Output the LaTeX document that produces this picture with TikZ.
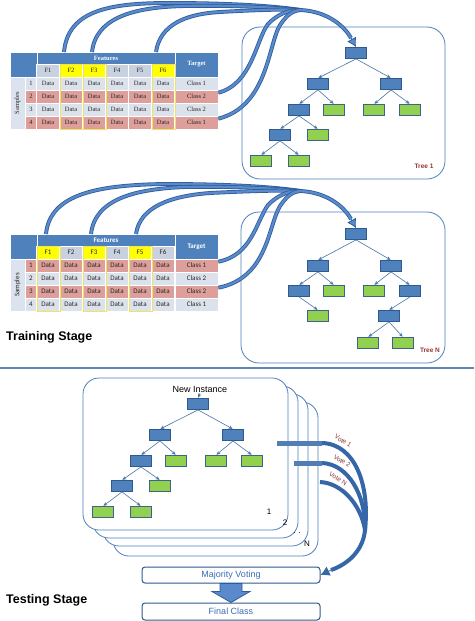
\documentclass[tikz,border=0pt]{standalone}
\usepackage{fontspec}
\setmainfont{Liberation Sans}
\newfontfamily\tabserif{Liberation Serif}
\newfontfamily\tabsans{Carlito}
\usetikzlibrary{arrows.meta}

\definecolor{hdrblue}{HTML}{4F81BD}
\definecolor{rowgrey}{HTML}{DCE2EC}
\definecolor{rowpink}{HTML}{DE9F9B}
\definecolor{fgrey}{HTML}{C8D1E0}
\definecolor{fyel}{HTML}{FFFF00}
\definecolor{samp}{HTML}{DCE3EE}
\definecolor{nblue}{HTML}{4F81BD}
\definecolor{nbdark}{HTML}{2F5A8E}
\definecolor{ngreen}{HTML}{92D050}
\definecolor{boxline}{HTML}{4F81BD}
\definecolor{tubeout}{HTML}{2E5C9A}
\definecolor{tubein}{HTML}{5A8ACB}
\definecolor{vcol}{HTML}{3566A8}
\definecolor{treered}{HTML}{953735}
\definecolor{divcol}{HTML}{5F87B3}
\definecolor{votered}{HTML}{8B3A3A}
\definecolor{yelline}{HTML}{F2E35C}
\definecolor{vtext}{HTML}{3A6DB0}

\tikzset{
  hdr/.style={rectangle, fill=hdrblue, draw=white, line width=0.6pt, inner sep=0pt, text=white},
  cell/.style={rectangle, draw=white, line width=0.6pt, inner sep=0pt, minimum width=23pt, minimum height=13pt, text=black!85},
  bn/.style={rectangle, fill=nblue, draw=nbdark, line width=0.8pt, minimum width=21pt, minimum height=11pt, inner sep=0pt},
  gn/.style={rectangle, fill=ngreen, draw=nbdark!80!gray, line width=0.8pt, minimum width=21pt, minimum height=11pt, inner sep=0pt},
  edge/.style={draw=nblue!90!black, line width=0.6pt, -{Stealth[length=4pt,width=3.5pt]}, shorten >=0.5pt},
  tbox/.style={draw=boxline, line width=0.8pt, rounded corners=18pt},
  card/.style={draw=boxline, line width=0.8pt, rounded corners=16pt, fill=white},
  tube/.style={draw=tubeout, line width=0.8pt, double=tubein, double distance=2.3pt},
  vtube/.style={draw=vcol, line width=4pt},
  tubetip/.style={draw=tubeout, line width=0.8pt, -{Latex[length=9pt,width=10pt,fill=tubein]}},
  votebar/.style={draw=vcol!85!white, line width=5pt},
  treelbl/.style={text=treered, font=\bfseries\fontsize{6.5}{7}\selectfont, inner sep=0pt},
  votelbl/.style={text=votered, font=\fontsize{6.5}{7}\selectfont, inner sep=0pt},
  stage/.style={font=\bfseries\fontsize{12.5}{14}\selectfont, anchor=west, inner sep=0pt},
  cardlbl/.style={font=\fontsize{8}{9}\selectfont, inner sep=0pt},
  vbox/.style={rectangle, rounded corners=3pt, draw=nbdark, line width=1pt, fill=white, text=vtext, font=\fontsize{9}{10}\selectfont, minimum width=178pt, inner sep=0pt},
}

\newcommand\mkTable[6]{%
\begin{scope}[shift={(0,#2)}, font=#5]
 \node[hdr, minimum width=27pt, minimum height=25pt] (#1corner) at (23.5,64.5) {};
 \node[hdr, minimum width=138pt, minimum height=12pt] (#1feat) at (106,58) {\bfseries Features};
 \node[hdr, minimum width=43pt, minimum height=25pt] (#1targ) at (196.5,64.5) {\bfseries Target};
 \foreach \c/\fc in {#3} {\node[cell, fill=\fc] (#1f\c) at ({25+23*\c},70.5) {F\c};}
 \node[cell, fill=samp, minimum width=52pt, minimum height=15pt, rotate=90] (#1samp) at (17.5,103) {Samples};
 \foreach \r/\rc/\cl in {#4} {
   \node[cell, fill=\rc, minimum width=12pt] (#1n\r) at (31,{70.5+13*\r}) {\r};
   \foreach \c in {1,...,6} {\node[cell, fill=\rc] (#1d\r\c) at ({25+23*\c},{70.5+13*\r}) {Data};}
   \node[cell, fill=\rc, minimum width=43pt] (#1c\r) at (196.5,{70.5+13*\r}) {\cl};
 }
 \foreach \c in {#6} {\draw[yelline, line width=0.9pt] ({14+23*\c},64.5) rectangle ({37+23*\c},129);}
\end{scope}}

\newcommand\treeOne[1]{%
 \node[bn] (#1a) at (0,0) {};
 \node[bn] (#1b) at (-38,31) {};
 \node[bn] (#1c) at (35,31) {};
 \node[bn] (#1d) at (-57,57) {};
 \node[gn] (#1e) at (-22,57) {};
 \node[gn] (#1f) at (18,57) {};
 \node[gn] (#1g) at (54,57) {};
 \node[bn] (#1h) at (-76,82) {};
 \node[gn] (#1i) at (-38,82) {};
 \node[gn] (#1j) at (-95,108) {};
 \node[gn] (#1k) at (-57,108) {};
 \draw[edge] (#1a.south) -- (#1b.north);
 \draw[edge] (#1a.south) -- (#1c.north);
 \draw[edge] (#1b.south) -- (#1d.north);
 \draw[edge] (#1b.south) -- (#1e.north);
 \draw[edge] (#1c.south) -- (#1f.north);
 \draw[edge] (#1c.south) -- (#1g.north);
 \draw[edge] (#1d.south) -- (#1h.north);
 \draw[edge] (#1d.south) -- (#1i.north);
 \draw[edge] (#1h.south) -- (#1j.north);
 \draw[edge] (#1h.south) -- (#1k.north);
}

\begin{document}
\begin{tikzpicture}[x=1pt,y=-1pt]
\useasboundingbox (0,0) rectangle (474,621);
\fill[white] (0,0) rectangle (474,621);

% ---------- tables ----------
\mkTable{ta}{0}{1/fgrey,2/fyel,3/fyel,4/fgrey,5/fgrey,6/fyel}{1/rowgrey/Class 1,2/rowpink/Class 2,3/rowgrey/Class 2,4/rowpink/Class 1}{\tabserif\fontsize{6.5}{7}\selectfont}{2,3,6}
\mkTable{tb}{182}{1/fyel,2/fgrey,3/fyel,4/fgrey,5/fyel,6/fgrey}{1/rowpink/Class 1,2/rowgrey/Class 2,3/rowpink/Class 2,4/rowgrey/Class 1}{\tabsans\fontsize{7}{8}\selectfont}{1,3,5}

% ---------- tree 1 ----------
\draw[tbox] (242,27) rectangle (445,179);
\begin{scope}[shift={(356,53)}]
 \treeOne{ra}
\end{scope}
\node[treelbl] (lbl1) at (424,166) {Tree 1};

% ---------- tree N ----------
\draw[tbox] (241,212) rectangle (445,363);
\begin{scope}[shift={(356,234)}]
 \node[bn] (rba) at (0,0) {};
 \node[bn] (rbb) at (-38,32) {};
 \node[bn] (rbc) at (35,32) {};
 \node[bn] (rbd) at (-57,57) {};
 \node[gn] (rbe) at (-22,57) {};
 \node[gn] (rbf) at (18,57) {};
 \node[bn] (rbg) at (54,57) {};
 \node[gn] (rbh) at (-38,82) {};
 \node[bn] (rbi) at (33,82) {};
 \node[gn] (rbj) at (12,109) {};
 \node[gn] (rbk) at (47,109) {};
 \draw[edge] (rba.south) -- (rbb.north);
 \draw[edge] (rba.south) -- (rbc.north);
 \draw[edge] (rbb.south) -- (rbd.north);
 \draw[edge] (rbb.south) -- (rbe.north);
 \draw[edge] (rbc.south) -- (rbf.north);
 \draw[edge] (rbc.south) -- (rbg.north);
 \draw[edge] (rbd.south) -- (rbh.north);
 \draw[edge] (rbg.south) -- (rbi.north);
 \draw[edge] (rbi.south) -- (rbj.north);
 \draw[edge] (rbi.south) -- (rbk.north);
\end{scope}
\node[treelbl] (lbl2) at (430,350) {Tree N};

% ---------- bundles to tree 1 ----------
\coordinate (sa2) at (64,52);
\coordinate (sa3) at (92,52);
\coordinate (sa6) at (156,52);
\coordinate (ja) at (300,10);
\coordinate (ma) at (351,38);
\draw[tube] (sa2) .. controls (68,10) and (110,3) .. (170,3) .. controls (230,3) and (275,6) .. (ja);
\draw[tube] (sa3) .. controls (96,17) and (135,7) .. (185,6) .. controls (240,5) and (280,8) .. (ja);
\draw[tube] (sa6) .. controls (160,25) and (185,14) .. (220,12) .. controls (255,10) and (285,9) .. (ja);
\draw[tube] (tac2.north east) ++(0,3) .. controls (252,84) and (256,40) .. (268,24) .. controls (278,14) and (288,10) .. (ja);
\draw[tube] (tac4.north east) ++(0,3) .. controls (268,106) and (268,45) .. (280,25) .. controls (287,15) and (292,11) .. (ja);
\draw[tube] (ja) .. controls (325,11) and (343,24) .. (ma);
\draw[tubetip] (ma) -- (raa.north);

% ---------- bundles to tree N ----------
\coordinate (sb1) at (46,234);
\coordinate (sb3) at (91,234);
\coordinate (sb5) at (136,234);
\coordinate (jb) at (300,191);
\coordinate (mb) at (351,219);
\draw[tube] (sb1) .. controls (50,193) and (100,185) .. (165,184) .. controls (230,184) and (275,187) .. (jb);
\draw[tube] (sb3) .. controls (95,199) and (135,189) .. (185,187) .. controls (240,186) and (280,189) .. (jb);
\draw[tube] (sb5) .. controls (140,207) and (170,196) .. (210,193) .. controls (250,191) and (285,190) .. (jb);
\draw[tube] (tbc1.north east) ++(0,3) .. controls (252,255) and (256,222) .. (268,205) .. controls (278,195) and (288,191) .. (jb);
\draw[tube] (tbc3.north east) ++(0,3) .. controls (268,278) and (268,226) .. (280,206) .. controls (287,196) and (292,192) .. (jb);
\draw[tube] (jb) .. controls (325,192) and (343,205) .. (mb);
\draw[tubetip] (mb) -- (rba.north);

\node[stage] (train) at (6,337) {Training Stage};

% ---------- divider ----------
\draw[divcol, line width=2pt] (0,368) -- (474,368);

% ---------- testing stage ----------
\draw[card] (113,402) rectangle (318,556);
\draw[card] (103,394) rectangle (308,546);
\draw[card] (93,386) rectangle (298,538);
\draw[card] (83,378) rectangle (288,530);
\node[cardlbl] (k1) at (269,512) {1};
\node[cardlbl] (k2) at (285,523) {2};
\node[cardlbl] (k3) at (297,533) {. .};
\node[cardlbl] (kn) at (307,544) {N};

\node[font=\fontsize{9}{10}\selectfont, inner sep=1pt] (ni) at (200,389) {New Instance};
\begin{scope}[shift={(198,404)}]
 \treeOne{sa}
\end{scope}
\draw[edge] (ni.south) -- (saa.north);

% votes
\coordinate (vb1) at (277,443);
\coordinate (ve1) at (322,443);
\coordinate (vb2) at (294,463);
\coordinate (ve2) at (322,463);
\coordinate (veN) at (320,482);
\coordinate (vj) at (365,530);
\coordinate (vm) at (331,570);
\draw[votebar] (vb1) -- (ve1);
\draw[votebar] (vb2) -- (ve2);
\draw[vtube] (ve1) .. controls (355,444) and (370,485) .. (vj);
\draw[vtube] (ve2) .. controls (348,464) and (366,495) .. (vj);
\draw[vtube] (veN) .. controls (342,483) and (361,505) .. (vj);
\draw[vtube] (vj) .. controls (363,552) and (346,565) .. (vm);

\node[votelbl, rotate=-32] (v1) at (343,441) {Vote 1};
\node[votelbl, rotate=-32] (v2) at (342,461) {Vote 2};
\node[votelbl, rotate=-32] (vn) at (338,479) {Vote N};

\node[vbox, minimum height=16pt] (mv) at (231,575) {Majority Voting};
\node[vbox, minimum height=17pt] (fc) at (231,611.5) {Final Class};
\draw[draw=vcol, line width=0.8pt, -{Latex[length=9pt,width=10pt,fill=vcol]}] (vm) -- (mv.east);
\path[fill=tubein, draw=tubeout, line width=0.8pt]
  ([xshift=-11pt]mv.south) -- ([xshift=11pt]mv.south) -- ([xshift=11pt,yshift=-8pt]mv.south)
  -- ([xshift=19pt,yshift=-8pt]mv.south) -- (fc.north) -- ([xshift=-19pt,yshift=-8pt]mv.south)
  -- ([xshift=-11pt,yshift=-8pt]mv.south) -- cycle;

\node[stage] (test) at (6,600) {Testing Stage};
\end{tikzpicture}
\end{document}
